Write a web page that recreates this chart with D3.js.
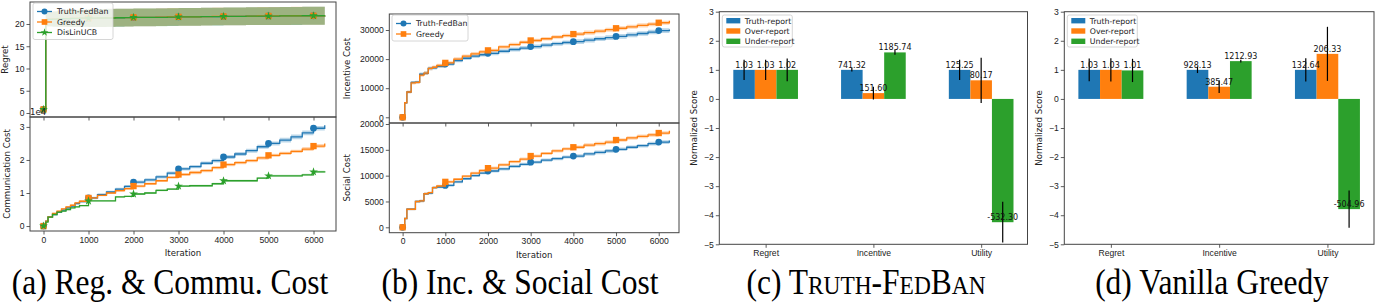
<!DOCTYPE html>
<html>
<head>
<meta charset="utf-8">
<title>Truth-FedBan results</title>
<script src="https://d3js.org/d3.v7.min.js"></script>
<style>
  body { margin: 0; background: #fff; }
  svg { display: block; font-family: "DejaVu Sans", sans-serif; }
  .axis path { display: none; }
  .axis line { stroke: #333; stroke-width: 0.8; }
  .axis text { font-size: 8.6px; fill: #222; }
  .frame { fill: none; stroke: #444; stroke-width: 1; }
  .axlabel { font-size: 8.6px; fill: #222; text-anchor: middle; }
  .legend text { font-size: 7.8px; fill: #222; }
  .barlabel { font-size: 8px; fill: #111; text-anchor: middle; }
  .caption { font-family: "Liberation Serif", "Times New Roman", serif; font-size: 35px; fill: #000; text-anchor: middle; }
</style>
</head>
<body>
<svg id="fig" width="1376" height="302"></svg>
<script>
// ---- data ----
const iters = [0, 50, 100, 200, 300, 400, 500, 600, 700, 800, 1000, 1200, 1400, 1600, 1800,
  2000, 2250, 2500, 2750, 3000, 3250, 3500, 3750, 4000, 4250, 4500, 4750, 5000, 5250, 5500, 5750, 6000, 6250];
const xTicks = [0, 1000, 2000, 3000, 4000, 5000, 6000];

// (a) regret
const regretTruth = [0.8, 21.0, 21.1, 21.1, 21.2, 21.2, 21.2, 21.25, 21.25, 21.3, 21.3, 21.35, 21.4, 21.4, 21.45,
  21.5, 21.5, 21.55, 21.55, 21.6, 21.6, 21.65, 21.65, 21.7, 21.7, 21.75, 21.75, 21.8, 21.8, 21.8, 21.85, 21.85, 21.9];
const regretGreedy = [0.8, 21.0, 21.1, 21.15, 21.2, 21.2, 21.25, 21.25, 21.3, 21.3, 21.3, 21.35, 21.4, 21.45, 21.45,
  21.5, 21.5, 21.55, 21.6, 21.6, 21.6, 21.65, 21.7, 21.7, 21.7, 21.75, 21.8, 21.8, 21.8, 21.85, 21.85, 21.85, 21.9];
const regretDis = [0.8, 21.0, 21.05, 21.1, 21.15, 21.2, 21.2, 21.25, 21.25, 21.3, 21.3, 21.35, 21.35, 21.4, 21.45,
  21.5, 21.5, 21.5, 21.55, 21.6, 21.6, 21.65, 21.65, 21.7, 21.7, 21.75, 21.75, 21.75, 21.8, 21.8, 21.85, 21.85, 21.9];
const regretStd = [0.1, 1.5, 1.6, 1.7, 1.8, 1.8, 1.9, 1.9, 1.9, 1.9, 2.0, 2.0, 2.0, 2.0, 2.0,
  2.0, 2.0, 2.0, 2.0, 2.0, 2.0, 2.0, 2.0, 2.0, 2.0, 2.0, 2.0, 2.0, 2.0, 2.0, 2.0, 2.0, 2.0];

// (a) communication cost, x1e4
const commTruth = [0, 0.15, 0.28, 0.35, 0.42, 0.48, 0.55, 0.6, 0.68, 0.74, 0.85, 0.95, 1.03, 1.12, 1.2,
  1.33, 1.4, 1.49, 1.6, 1.73, 1.8, 1.9, 1.98, 2.09, 2.18, 2.28, 2.4, 2.5, 2.6, 2.7, 2.82, 2.96, 3.05];
const commGreedy = [0, 0.15, 0.28, 0.38, 0.45, 0.52, 0.58, 0.63, 0.7, 0.75, 0.85, 0.93, 1.0, 1.07, 1.13,
  1.21, 1.28, 1.37, 1.47, 1.56, 1.62, 1.68, 1.77, 1.86, 1.92, 1.98, 2.06, 2.14, 2.2, 2.26, 2.33, 2.42, 2.5];
const commDis = [0, 0.12, 0.27, 0.35, 0.42, 0.45, 0.5, 0.55, 0.58, 0.62, 0.76, 0.76, 0.76, 0.88, 0.9,
  0.97, 1.0, 1.08, 1.12, 1.21, 1.22, 1.22, 1.28, 1.37, 1.37, 1.37, 1.45, 1.52, 1.52, 1.52, 1.55, 1.64, 1.66];
const commTruthStd = [0, 0.01, 0.02, 0.02, 0.02, 0.03, 0.03, 0.03, 0.03, 0.03, 0.04, 0.04, 0.04, 0.04, 0.04,
  0.05, 0.05, 0.05, 0.05, 0.05, 0.05, 0.05, 0.06, 0.06, 0.06, 0.06, 0.06, 0.06, 0.07, 0.07, 0.07, 0.07, 0.07];
const commGreedyStd = [0, 0.01, 0.02, 0.02, 0.02, 0.02, 0.03, 0.03, 0.03, 0.03, 0.03, 0.03, 0.03, 0.04, 0.04,
  0.04, 0.04, 0.04, 0.04, 0.04, 0.05, 0.05, 0.05, 0.05, 0.05, 0.05, 0.05, 0.05, 0.05, 0.05, 0.06, 0.06, 0.06];
const commDisStd = [0, 0.01, 0.01, 0.01, 0.02, 0.02, 0.02, 0.02, 0.02, 0.02, 0.02, 0.02, 0.02, 0.02, 0.02,
  0.03, 0.03, 0.03, 0.03, 0.03, 0.03, 0.03, 0.03, 0.03, 0.03, 0.03, 0.03, 0.03, 0.03, 0.03, 0.03, 0.03, 0.03];

// (b) incentive cost
const incTruth = [0, 5000, 8700, 12000, 12100, 14800, 15100, 16800, 17000, 17500, 18300, 19500, 20300, 21000, 21500,
  22000, 22700, 23300, 23800, 24300, 24800, 25300, 25700, 26000, 26500, 27000, 27400, 27800, 28300, 28800, 29300, 29800, 30200];
const incGreedy = [0, 5000, 8700, 11800, 12000, 14500, 15200, 16800, 17200, 17800, 18700, 20000, 21000, 21800, 22500,
  23000, 24200, 25000, 25800, 26400, 27000, 27600, 28100, 28600, 29100, 29600, 30100, 30600, 31100, 31600, 32000, 32500, 33200];
const incTruthStd = [0, 300, 400, 500, 500, 600, 600, 600, 600, 600, 600, 600, 600, 600, 600,
  700, 700, 700, 700, 700, 700, 700, 700, 800, 800, 800, 800, 800, 800, 800, 800, 800, 800];
const incGreedyStd = [0, 300, 400, 500, 500, 600, 600, 600, 600, 600, 600, 600, 600, 600, 600,
  600, 600, 600, 600, 600, 600, 600, 600, 700, 700, 700, 700, 700, 700, 700, 700, 700, 700];

// (b) social cost
const socTruth = [0, 1700, 3500, 3500, 5000, 5100, 6500, 6600, 7700, 7800, 8100, 8800, 9400, 10000, 10500,
  10900, 11300, 11800, 12200, 12600, 13000, 13300, 13600, 13800, 14200, 14500, 14800, 15100, 15500, 15800, 16200, 16500, 16800];
const socGreedy = [0, 1700, 3500, 3500, 5000, 5100, 6500, 6700, 7700, 8000, 8800, 9300, 9900, 10500, 11000,
  11450, 12100, 12700, 13200, 13800, 14300, 14800, 15200, 15500, 15900, 16200, 16500, 16900, 17300, 17600, 17900, 18250, 18700];
const socStd = [0, 100, 200, 200, 200, 250, 250, 250, 250, 250, 250, 250, 250, 250, 250,
  300, 300, 300, 300, 300, 300, 300, 300, 350, 350, 350, 350, 350, 350, 350, 350, 350, 350];

// (c), (d) normalized scores
const metrics = ["Regret", "Incentive", "Utility"];
const reports = ["Truth-report", "Over-report", "Under-report"];

const fedbanTruth = [1.0, 1.0, 1.0];
const fedbanOver = [1.0, 0.2, 0.64];
const fedbanUnder = [1.0, 1.6, -4.24];
const fedbanTruthErr = [0.35, 0.06, 0.35];
const fedbanOverErr = [0.35, 0.22, 0.78];
const fedbanUnderErr = [0.39, 0.08, 0.7];
const fedbanTruthLbl = ["1.03", "741.32", "125.25"];
const fedbanOverLbl = ["1.03", "151.60", "80.17"];
const fedbanUnderLbl = ["1.02", "1185.74", "-532.30"];

const greedyTruth = [1.0, 1.0, 1.0];
const greedyOver = [1.0, 0.42, 1.55];
const greedyUnder = [0.98, 1.3, -3.79];
const greedyTruthErr = [0.39, 0.11, 0.4];
const greedyOverErr = [0.4, 0.22, 0.93];
const greedyUnderErr = [0.4, 0.05, 0.64];
const greedyTruthLbl = ["1.03", "928.13", "132.64"];
const greedyOverLbl = ["1.03", "385.47", "206.33"];
const greedyUnderLbl = ["1.01", "1212.93", "-504.96"];

const blue = "#1f77b4", orange = "#ff7f0e", green = "#2ca02c";
const svg = d3.select("#fig");

function frame(x0, y0, x1, y1) {
  svg.append("rect").attr("class", "frame")
    .attr("x", x0).attr("y", y0).attr("width", x1 - x0).attr("height", y1 - y0);
}

function yLabel(text, x, y) {
  svg.append("text").attr("class", "axlabel")
    .attr("transform", `translate(${x},${y}) rotate(-90)`).text(text);
}

// line subplot with shaded std bands and markers every 1000 iterations
function linePlot(o) {
  const x = d3.scaleLinear().domain(o.xDomain).range([o.left, o.right]);
  const y = d3.scaleLinear().domain(o.yDomain).range([o.bottom, o.top]);
  const g = svg.append("g");

  o.series.forEach(s => {
    const band = d3.area().curve(d3.curveStepAfter)
      .x((d, i) => x(iters[i]))
      .y0((d, i) => y(d - s.std[i]))
      .y1((d, i) => y(d + s.std[i]));
    g.append("path").datum(s.values).attr("d", band)
      .attr("fill", s.color).attr("fill-opacity", 0.3);
  });

  o.series.forEach(s => {
    const line = d3.line().curve(d3.curveStepAfter)
      .x((d, i) => x(iters[i])).y(d => y(d));
    g.append("path").datum(s.values).attr("d", line)
      .attr("fill", "none").attr("stroke", s.color).attr("stroke-width", 1.3);
    const pts = iters.map((t, i) => [t, s.values[i]]).filter(d => d[0] % 1000 === 0);
    g.selectAll(null).data(pts).join("path")
      .attr("transform", d => `translate(${x(d[0])},${y(d[1])})`)
      .attr("d", d3.symbol(s.symbol, s.size))
      .attr("fill", s.color);
  });

  g.append("g").attr("class", "axis")
    .attr("transform", `translate(${o.left},0)`)
    .call(d3.axisLeft(y).tickValues(o.yTicks).tickSize(3.5).tickPadding(2).tickFormat(d3.format("d")));
  g.append("g").attr("class", "axis")
    .attr("transform", `translate(0,${o.bottom})`)
    .call(d3.axisBottom(x).tickValues(xTicks).tickSize(3.5).tickPadding(2)
      .tickFormat(o.showX ? d3.format("d") : ""));

  frame(o.left, o.top, o.right, o.bottom);
  yLabel(o.ylabel, o.ylabelX, (o.top + o.bottom) / 2);
  if (o.showX) {
    svg.append("text").attr("class", "axlabel")
      .attr("x", (o.left + o.right) / 2).attr("y", o.bottom + 25).text("Iteration");
  }
  return { x, y };
}

function lineLegend(x0, y0, w, items) {
  const g = svg.append("g").attr("class", "legend");
  g.append("rect").attr("x", x0).attr("y", y0).attr("width", w).attr("height", items.length * 10.5 + 5)
    .attr("rx", 2).attr("fill", "#fff").attr("fill-opacity", 0.8).attr("stroke", "#ccc").attr("stroke-width", 0.8);
  items.forEach((it, i) => {
    const cy = y0 + 8.5 + i * 10.5;
    g.append("line").attr("x1", x0 + 4).attr("x2", x0 + 19).attr("y1", cy).attr("y2", cy)
      .attr("stroke", it.color).attr("stroke-width", 1.3);
    g.append("path").attr("transform", `translate(${x0 + 11.5},${cy})`)
      .attr("d", d3.symbol(it.symbol, it.size * 0.8)).attr("fill", it.color);
    g.append("text").attr("x", x0 + 24).attr("y", cy + 2.8).text(it.name);
  });
}

// grouped bar subplot
function barPlot(o) {
  const x = d3.scaleLinear().domain([-0.43, 2.43]).range([o.left, o.right]);
  const y = d3.scaleLinear().domain([-5, 3]).range([244.3, 11.7]);
  const g = svg.append("g");
  const colors = [blue, orange, green];
  const bw = 0.2;

  o.groups.forEach((grp, k) => {
    const off = (k - 1) * bw;
    grp.values.forEach((v, i) => {
      g.append("rect")
        .attr("x", x(i + off - bw / 2)).attr("width", x(bw) - x(0))
        .attr("y", y(Math.max(v, 0))).attr("height", Math.abs(y(v) - y(0)))
        .attr("fill", colors[k]);
    });
  });
  o.groups.forEach((grp, k) => {
    const off = (k - 1) * bw;
    grp.values.forEach((v, i) => {
      g.append("line")
        .attr("x1", x(i + off)).attr("x2", x(i + off))
        .attr("y1", y(v - grp.err[i])).attr("y2", y(v + grp.err[i]))
        .attr("stroke", "#000").attr("stroke-width", 1.2);
    });
  });
  o.groups.forEach((grp, k) => {
    const off = (k - 1) * bw;
    grp.values.forEach((v, i) => {
      g.append("text").attr("class", "barlabel")
        .attr("x", x(i + off)).attr("y", y(v) - 2).text(grp.labels[i]);
    });
  });

  g.append("g").attr("class", "axis")
    .attr("transform", `translate(${o.left},0)`)
    .call(d3.axisLeft(y).ticks(8).tickSize(3.5).tickPadding(2).tickFormat(d3.format("d")));
  g.append("g").attr("class", "axis")
    .attr("transform", "translate(0,244.3)")
    .call(d3.axisBottom(x).tickValues([0, 1, 2]).tickSize(3.5).tickPadding(2).tickFormat(i => metrics[i]));

  frame(o.left, 11.7, o.right, 244.3);
  yLabel("Normalized Score", o.ylabelX, 128);

  const lg = svg.append("g").attr("class", "legend");
  const lx = o.left + 3, ly = 15;
  lg.append("rect").attr("x", lx).attr("y", ly).attr("width", 70).attr("height", 32)
    .attr("rx", 2).attr("fill", "#fff").attr("fill-opacity", 0.8).attr("stroke", "#ccc").attr("stroke-width", 0.8);
  reports.forEach((r, k) => {
    const cy = ly + 5.7 + k * 10.3;
    lg.append("rect").attr("x", lx + 4).attr("y", cy - 2.7).attr("width", 14).attr("height", 5.4).attr("fill", colors[k]);
    lg.append("text").attr("x", lx + 22.5).attr("y", cy + 2.8).text(r);
  });
}

// ---- panel (a) ----
const xA = [-300, 6500];
linePlot({
  left: 30, right: 336, top: 2, bottom: 117, xDomain: xA, yDomain: [-0.9, 24.94],
  yTicks: [0, 5, 10, 15, 20], showX: false, ylabel: "Regret", ylabelX: 8,
  series: [
    { values: regretTruth, std: regretStd, color: blue, symbol: d3.symbolCircle, size: 36 },
    { values: regretGreedy, std: regretStd, color: orange, symbol: d3.symbolSquare, size: 40 },
    { values: regretDis, std: regretStd, color: green, symbol: d3.symbolStar, size: 24 }
  ]
});
linePlot({
  left: 30, right: 336, top: 117, bottom: 231, xDomain: xA, yDomain: [-0.15, 3.3],
  yTicks: [0, 1, 2, 3], showX: true, ylabel: "Communication Cost", ylabelX: 10,
  series: [
    { values: commTruth, std: commTruthStd, color: blue, symbol: d3.symbolCircle, size: 36 },
    { values: commGreedy, std: commGreedyStd, color: orange, symbol: d3.symbolSquare, size: 40 },
    { values: commDis, std: commDisStd, color: green, symbol: d3.symbolStar, size: 24 }
  ]
});
svg.append("text").attr("class", "axlabel").attr("x", 30).attr("y", 115)
  .style("text-anchor", "start").text("1e4");
lineLegend(33, 3, 80, [
  { name: "Truth-FedBan", color: blue, symbol: d3.symbolCircle, size: 36 },
  { name: "Greedy", color: orange, symbol: d3.symbolSquare, size: 40 },
  { name: "DisLinUCB", color: green, symbol: d3.symbolStar, size: 24 }
]);

// ---- panel (b) ----
const xB = [-312, 6475];
linePlot({
  left: 389.3, right: 679, top: 14, bottom: 123, xDomain: xB, yDomain: [-1960, 35500],
  yTicks: [0, 10000, 20000, 30000], showX: false, ylabel: "Incentive Cost", ylabelX: 350,
  series: [
    { values: incTruth, std: incTruthStd, color: blue, symbol: d3.symbolCircle, size: 36 },
    { values: incGreedy, std: incGreedyStd, color: orange, symbol: d3.symbolSquare, size: 40 }
  ]
});
linePlot({
  left: 389.3, right: 679, top: 123, bottom: 232.7, xDomain: xB, yDomain: [-1045, 20194],
  yTicks: [0, 5000, 10000, 15000, 20000], showX: true, ylabel: "Social Cost", ylabelX: 350,
  series: [
    { values: socTruth, std: socStd, color: blue, symbol: d3.symbolCircle, size: 36 },
    { values: socGreedy, std: socStd, color: orange, symbol: d3.symbolSquare, size: 40 }
  ]
});
lineLegend(392, 15, 76, [
  { name: "Truth-FedBan", color: blue, symbol: d3.symbolCircle, size: 36 },
  { name: "Greedy", color: orange, symbol: d3.symbolSquare, size: 40 }
]);

// ---- panels (c) and (d) ----
barPlot({
  left: 719.3, right: 1027.5, ylabelX: 697,
  groups: [
    { values: fedbanTruth, err: fedbanTruthErr, labels: fedbanTruthLbl },
    { values: fedbanOver, err: fedbanOverErr, labels: fedbanOverLbl },
    { values: fedbanUnder, err: fedbanUnderErr, labels: fedbanUnderLbl }
  ]
});
barPlot({
  left: 1064.3, right: 1374, ylabelX: 1042,
  groups: [
    { values: greedyTruth, err: greedyTruthErr, labels: greedyTruthLbl },
    { values: greedyOver, err: greedyOverErr, labels: greedyOverLbl },
    { values: greedyUnder, err: greedyUnderErr, labels: greedyUnderLbl }
  ]
});

// ---- captions (slightly condensed serif) ----
function caption(cx) {
  return svg.append("text").attr("class", "caption")
    .attr("transform", `translate(${cx},294) scale(0.9,1)`);
}
caption(170).text("(a) Reg. & Commu. Cost");
caption(520).text("(b) Inc. & Social Cost");
const capC = caption(866);
capC.append("tspan").text("(c)  T");
capC.append("tspan").attr("font-size", "26px").text("RUTH");
capC.append("tspan").text("-F");
capC.append("tspan").attr("font-size", "26px").text("ED");
capC.append("tspan").text("B");
capC.append("tspan").attr("font-size", "26px").text("AN");
caption(1212).text("(d) Vanilla Greedy");
</script>
</body>
</html>
